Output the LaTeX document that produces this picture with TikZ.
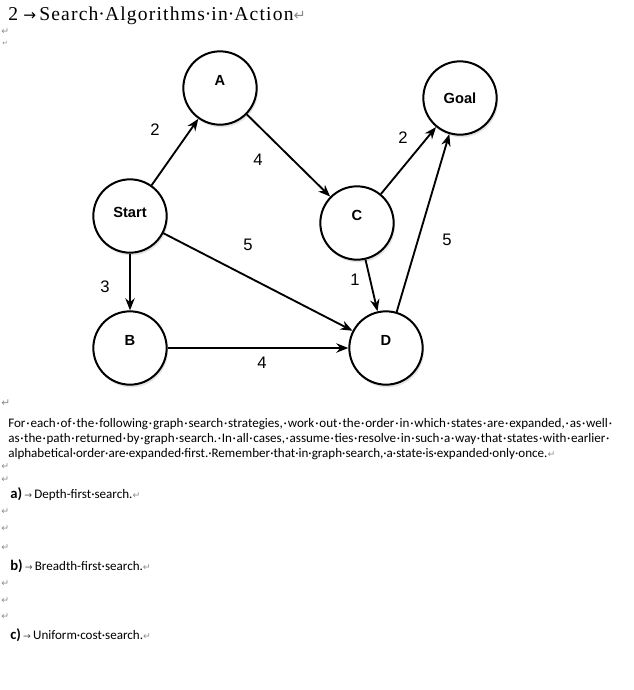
\documentclass[tikz,border=0pt]{standalone}
\usepackage{fontspec}
\setmainfont{Carlito}
\newfontfamily\titlefont[LetterSpace=6]{Liberation Serif}
\newfontfamily\graphfont{Liberation Sans}
\newfontfamily\markfont{DejaVu Sans}
\usetikzlibrary{arrows.meta,shadows}
\newcommand\ret[1][7]{{\markfont\color{black!45}\fontsize{#1}{#1}\selectfont ↵}}
\newcommand\tabmark{{\markfont\color{black!70}\fontsize{7}{8}\selectfont →}}
% visible space mark, stretchable for justified lines
\catcode`\·=\active
\def·{\hskip 0pt plus 1fil\char"B7\hskip 0pt plus 1fil\relax}
\tikzset{state/.style={circle, draw, line width=1.5pt, minimum size=55pt, inner sep=0pt, text depth=12pt,
    fill=white, drop shadow={opacity=0.22, shadow xshift=1pt, shadow yshift=-2pt},
    font=\graphfont\bfseries\fontsize{11}{13}\selectfont},
  wt/.style={font=\graphfont\fontsize{12.5}{14}\selectfont},
  pin/.style={line width=1.4pt, -{Stealth[length=9pt, width=7pt]}},
  txt/.style={anchor=base west, inner sep=0pt, font=\fontsize{9.8}{12}\selectfont},
  retmark/.style={anchor=west, inner sep=0pt}}

\begin{document}
\begin{tikzpicture}[x=0.75pt, y=-0.75pt]
  \useasboundingbox (0,0) rectangle (633,690);
  % heading
  \node[anchor=base west, inner sep=0pt, font=\titlefont\fontsize{14.7}{17}\selectfont] (qnum) at (8,20) {2};
  \node[anchor=base west, inner sep=0pt, font=\markfont\fontsize{11.5}{12}\selectfont] (qtab) at (23,20) {→};
  \node[anchor=base west, inner sep=0pt, font=\titlefont\fontsize{14.7}{17}\selectfont] (qtitle) at (39,20)
    {Search·Algorithms·in·Action\ret[11]};
  \node[retmark] (r1) at (1,32) {\ret};
  \node[retmark] (r2) at (2,43) {\ret[5]};

  % search graph
  \node[state, text depth=6pt] (start) at (130,216) {Start};
  \node[state] (a) at (220,88) {A};
  \node[state, text depth=0pt] (goal) at (460,98) {Goal};
  \node[state] (c) at (357,223) {C};
  \node[state] (b) at (130,348) {B};
  \node[state] (d) at (386,348) {D};
  \foreach \u/\v in {start/a, a/c, c/goal, start/b, start/d, c/d, b/d, d/goal}{\draw[pin] (\u) -- (\v);}
  \node[wt] (w1) at (155,130) {2};
  \node[wt] (w2) at (258,160) {4};
  \node[wt] (w3) at (248,245) {5};
  \node[wt] (w4) at (403,138) {2};
  \node[wt] (w5) at (447,240) {5};
  \node[wt] (w6) at (355,280) {1};
  \node[wt] (w7) at (105,287) {3};
  \node[wt] (w8) at (262,363) {4};

  % question text
  \node[retmark] (r3) at (1,403) {\ret[8]};
  \node[txt] (p1) at (8,427) {\makebox[453pt][s]{For·each·of·the·following·graph·search·strategies,·work·out·the·order·in·which·states·are·expanded,·as·well·\unskip}};
  \node[txt] (p2) at (8,442) {\makebox[451pt][s]{as·the·path·returned·by·graph·search.·In·all·cases,·assume·ties·resolve·in·such·a·way·that·states·with·earlier·\unskip}};
  \node[txt] (p3) at (8,457) {alphabetical·order·are·expanded·first.·Remember·that·in·graph·search,·a·state·is·expanded·only·once.\ret};
  \foreach \y [count=\i] in {467,480,512,529,548,584,601,617}{\node[retmark] (e\i) at (1,\y) {\ret};}
  \node[txt] (qa) at (10,498) {{\bfseries\fontsize{11}{12}\selectfont a)}\,\tabmark\,Depth-first·search.\ret};
  \node[txt] (qb) at (10,570) {{\bfseries\fontsize{11}{12}\selectfont b)}\,\tabmark\,Breadth-first·search.\ret};
  \node[txt] (qc) at (10,639) {{\bfseries\fontsize{11}{12}\selectfont c)}\,\tabmark\,Uniform·cost·search.\ret};
\end{tikzpicture}
\end{document}
